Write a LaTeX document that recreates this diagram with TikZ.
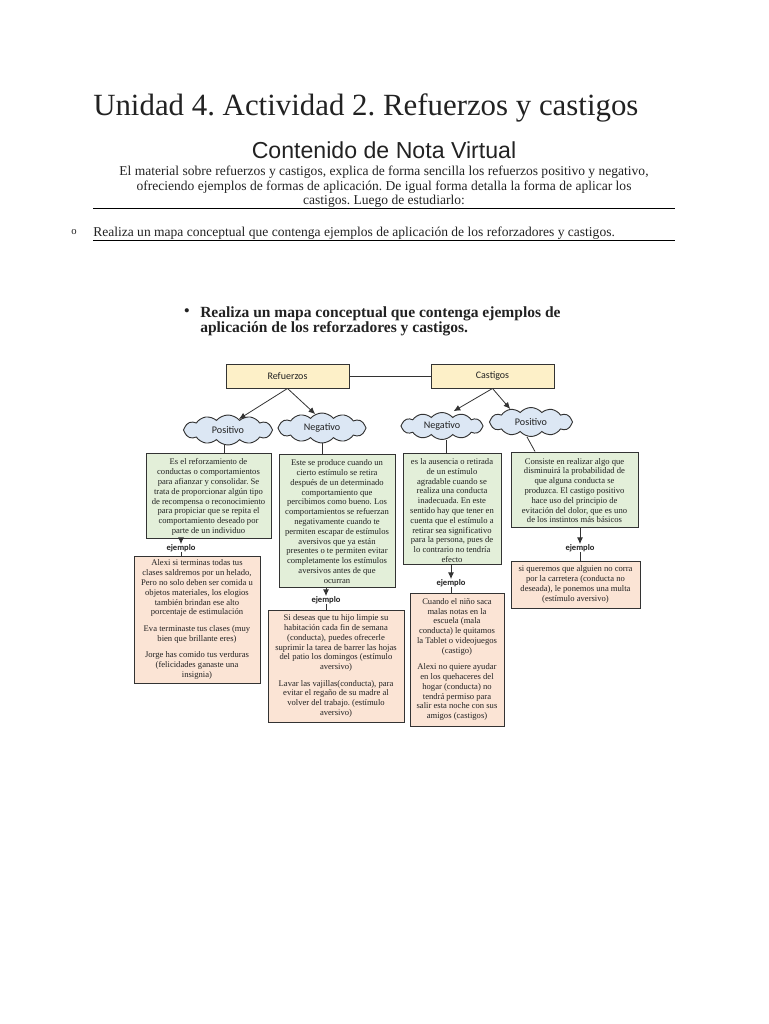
\documentclass[tikz,border=0pt]{standalone}
\usepackage{fontspec}
\setmainfont{Liberation Serif}
\newfontfamily\arialf{Liberation Sans}
\newfontfamily\calib{Carlito}
\usetikzlibrary{shapes.symbols,arrows.meta,calc}
\definecolor{ink}{HTML}{222222}
\definecolor{edge}{HTML}{333333}
\definecolor{cyellow}{HTML}{FDF0C8}
\definecolor{cgreen}{HTML}{E3EFD9}
\definecolor{cpeach}{HTML}{FBE4D5}
\definecolor{cblue}{HTML}{DCE7F4}
\tikzset{
  headbox/.style={draw=edge,line width=.7pt,fill=cyellow,inner sep=0pt,font=\calib\fontsize{7.5}{8}\selectfont,text=ink},
  txtbox/.style={draw=edge,line width=.75pt,inner sep=0pt,align=center,text=ink,font=\fontsize{6.45}{7.35}\selectfont},
  greenbox/.style={txtbox,fill=cgreen},
  peachbox/.style={txtbox,fill=cpeach},
  cloudbox/.style={cloud,cloud ignores aspect,cloud puffs=12,cloud puff arc=100,draw=edge,line width=.7pt,fill=cblue,inner sep=0pt,font=\calib\fontsize{7.6}{8}\selectfont,text=ink},
  ejlabel/.style={inner sep=0pt,font=\calib\bfseries\fontsize{6.4}{7}\selectfont,text=ink},
  plain/.style={inner sep=0pt,text=ink},
  link/.style={draw=edge,line width=.6pt},
  arr/.style={link,-{Latex[length=5pt,width=4.5pt]}},
  rule/.style={draw=black,line width=.75pt}
}
\newcommand{\gappar}{\\[5pt]}
\newcommand{\lowr}[1]{\rule{0pt}{#1pt}}
\frenchspacing
\begin{document}
\begin{tikzpicture}[x=0.75pt,y=-0.75pt]
\useasboundingbox (0,0) rectangle (768,1024);
% header
\node[plain,anchor=west,font=\fontsize{23.15}{24}\selectfont] (title) at (93,107.5) {Unidad 4. Actividad 2. Refuerzos y castigos};
\node[plain,font=\arialf\fontsize{17.35}{18}\selectfont] (sub) at (384,150) {Contenido de Nota Virtual};
\node[plain,align=center,font=\fontsize{10.15}{10.9}\selectfont] (intro) at (384,187) {El material sobre refuerzos y castigos, explica de forma sencilla los refuerzos positivo y negativo,\\ofreciendo ejemplos de formas de aplicación. De igual forma detalla la forma de aplicar los\\castigos. Luego de estudiarlo:};
\coordinate (r1a) at (93,208.5); \coordinate (r1b) at (675,208.5);
\draw[rule] (r1a) -- (r1b);
\node[plain,font=\fontsize{8}{9}\selectfont] (bul) at (74,232) {o};
\node[plain,anchor=west,font=\fontsize{10.15}{11}\selectfont] (task) at (93,233) {Realiza un mapa conceptual que contenga ejemplos de aplicación de los reforzadores y castigos.};
\coordinate (r2a) at (93,240); \coordinate (r2b) at (675,240);
\draw[rule] (r2a) -- (r2b);
\node[plain,font=\fontsize{13}{13}\selectfont] (bul2) at (187,313) {•};
\node[plain,anchor=north west,align=left,font=\bfseries\fontsize{11.65}{11.4}\selectfont] (head) at (200,306.5) {Realiza un mapa conceptual que contenga ejemplos de\\aplicación de los reforzadores y castigos.};
% top boxes
\node[headbox,minimum width=123*0.75pt,minimum height=24*0.75pt] (ref) at (287.5,376) {Refuerzos};
\node[headbox,minimum width=123*0.75pt,minimum height=24*0.75pt] (cas) at (492.5,376) {Castigos};
\draw[link] (ref) -- (cas);
% clouds
\node[cloudbox,minimum width=89*0.75pt,minimum height=30*0.75pt] (c1) at (228,430) {Positivo};
\node[cloudbox,minimum width=88*0.75pt,minimum height=30*0.75pt] (c2) at (322,428) {Negativo};
\node[cloudbox,minimum width=82*0.75pt,minimum height=27*0.75pt] (c3) at (442,426) {Negativo};
\node[cloudbox,minimum width=83*0.75pt,minimum height=29*0.75pt] (c4) at (531,422) {Positivo};
\draw[arr] (ref.south) -- (c1.45);
\draw[arr] (ref.south) -- (c2.116);
\draw[arr,shorten >=4pt] (cas.south) -- (c3.60);
\draw[arr] (cas.south) -- (c4.148);
% green boxes
\node[greenbox,minimum width=125*0.75pt,minimum height=85*0.75pt] (g1) at (208.5,495.5) {\lowr{7}Es el reforzamiento de\\conductas o comportamientos\\para afianzar y consolidar. Se\\trata de proporcionar algún tipo\\de recompensa o reconocimiento\\para propiciar que se repita el\\comportamiento deseado por\\parte de un individuo};
\node[greenbox,minimum width=116*0.75pt,minimum height=133*0.75pt] (g2) at (337,520.5) {\lowr{6}Este se produce cuando un\\cierto estímulo se retira\\después de un determinado\\comportamiento que\\percibimos como bueno. Los\\comportamientos se refuerzan\\negativamente cuando te\\permiten escapar de estímulos\\aversivos que ya están\\presentes o te permiten evitar\\completamente los estímulos\\aversivos antes de que\\ocurran};
\node[greenbox,minimum width=98*0.75pt,minimum height=111*0.75pt] (g3) at (452,508.5) {\lowr{7.5}es la ausencia o retirada\\de un estímulo\\agradable cuando se\\realiza una conducta\\inadecuada. En este\\sentido hay que tener en\\cuenta que el estímulo a\\retirar sea significativo\\para la persona, pues de\\lo contrario no tendría\\efecto};
\node[greenbox,minimum width=127*0.75pt,minimum height=75*0.75pt] (g4) at (574.5,489.5) {\lowr{6}Consiste en realizar algo que\\disminuirá la probabilidad de\\que alguna conducta se\\produzca. El castigo positivo\\hace uso del principio de\\evitación del dolor, que es uno\\de los instintos más básicos};
\draw[link] ($(c1.south)+(-4,0)$) -- ($(c1.south |- g1.north)+(-4,0)$);
\draw[link] (c2.south) -- (c2.south |- g2.north);
\draw[link] ($(c3.south)+(4,0)$) -- ($(c3.south |- g3.north)+(4,0)$);
\draw[link] ($(c4.south)+(-4,0)$) -- (g4.north -| 535,0);
% peach boxes
\node[peachbox,minimum width=126*0.75pt,minimum height=127*0.75pt] (p1) at (197,619.5) {Alexi si terminas todas tus\\clases saldremos por un helado,\\Pero no solo deben ser comida u\\objetos materiales, los elogios\\también brindan ese alto\\porcentaje de estimulación\gappar Eva terminaste tus clases (muy\\bien que brillante eres)\gappar Jorge has comido tus verduras\\(felicidades ganaste una\\insignia)};
\node[peachbox,minimum width=136*0.75pt,minimum height=112*0.75pt] (p2) at (336,666) {Si deseas que tu hijo limpie su\\habitación cada fin de semana\\(conducta), puedes ofrecerle\\suprimir la tarea de barrer las hojas\\del patio los domingos (estímulo\\aversivo)\gappar Lavar las vajillas(conducta), para\\evitar el regaño de su madre al\\volver del trabajo. (estímulo\\aversivo)};
\node[peachbox,minimum width=94*0.75pt,minimum height=133*0.75pt] (p3) at (457,659.5) {Cuando el niño saca\\malas notas en la\\escuela (mala\\conducta) le quitamos\\la Tablet o videojuegos\\(castigo)\gappar Alexi no quiere ayudar\\en los quehaceres del\\hogar (conducta) no\\tendrá permiso para\\salir esta noche con sus\\amigos (castigos)};
\node[peachbox,minimum width=129*0.75pt,minimum height=47*0.75pt] (p4) at (575.5,584.5) {si queremos que alguien no corra\\por la carretera (conducta no\\deseada), le ponemos una multa\\(estímulo aversivo)};
% ejemplo links
\node[ejlabel] (e1) at (181,548) {ejemplo};
\node[ejlabel] (e2) at (326,600) {ejemplo};
\node[ejlabel] (e3) at (451,583) {ejemplo};
\node[ejlabel] (e4) at (580,548) {ejemplo};
\draw[arr] (e1 |- g1.south) -- (e1.north);
\draw[arr] (e2 |- g2.south) -- (e2.north);
\draw[arr] (e3 |- g3.south) -- (e3.north);
\draw[arr] (e4 |- g4.south) -- (e4.north);
\draw[link] (e1.south) -- (e1 |- p1.north);
\draw[link] (e2.south) -- (e2 |- p2.north);
\draw[link] (e3.south) -- (e3 |- p3.north);
\draw[link] (e4.south) -- (e4 |- p4.north);
\end{tikzpicture}
\end{document}
